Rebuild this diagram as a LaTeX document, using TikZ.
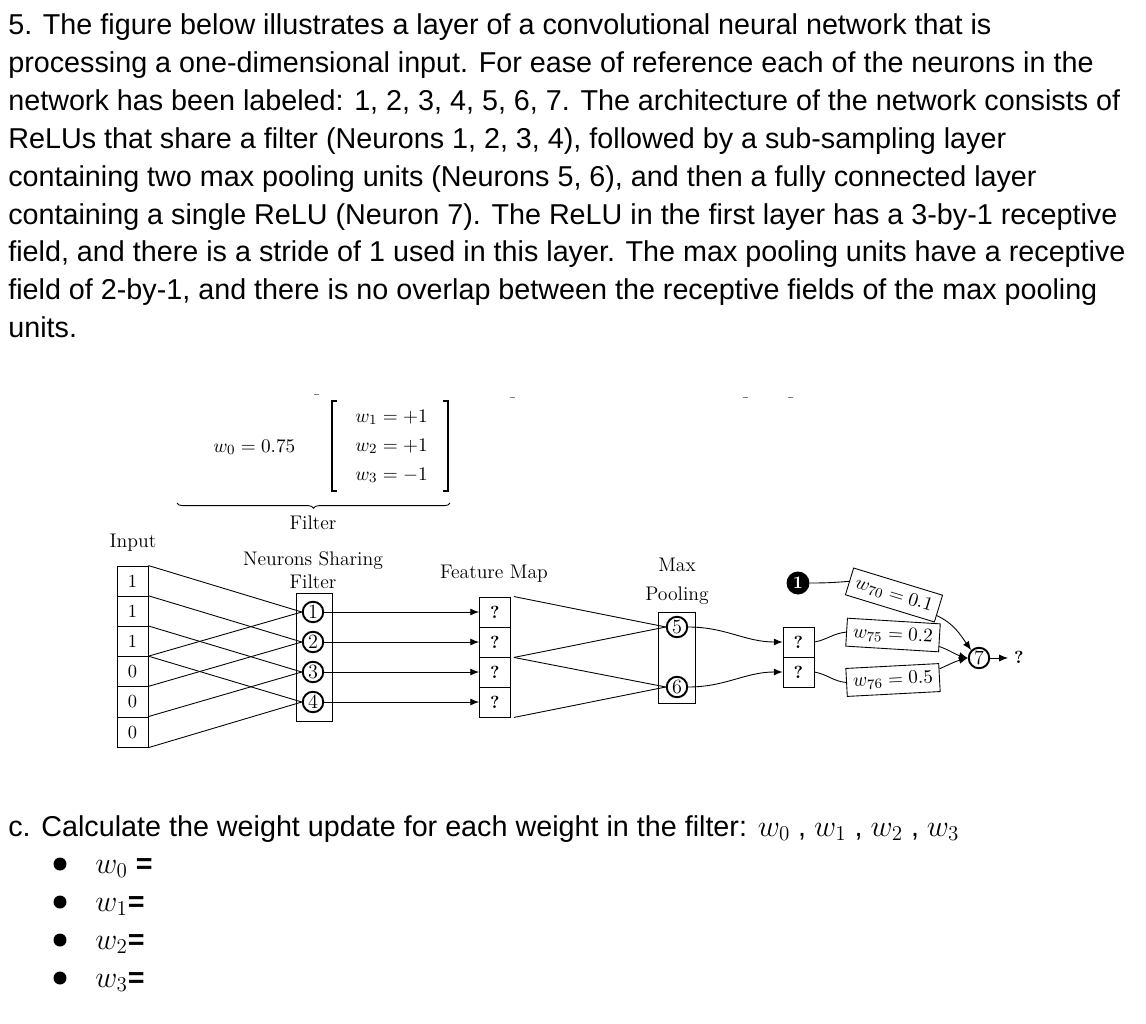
\documentclass[tikz,border=0pt]{standalone}
\usepackage{fontspec}
\newfontfamily\arial{Liberation Sans}
\usetikzlibrary{decorations.pathreplacing,arrows.meta,calc}
\begin{document}
\begin{tikzpicture}[x=0.02cm,y=-0.02cm,
  para/.style={anchor=base west,inner sep=0,font=\arial\fontsize{16.35}{19}\selectfont},
  lbl/.style={inner sep=0,align=center,font=\fontsize{11.2}{13}\selectfont},
  mth/.style={inner sep=0,anchor=base west,font=\fontsize{10.8}{13}\selectfont},
  cell/.style={draw,line width=0.5pt,minimum width=0.62cm,minimum height=0.604cm,inner sep=0,font=\fontsize{10.5}{12}\selectfont},
  qcell/.style={draw,line width=0.5pt,minimum width=0.62cm,minimum height=0.6cm,inner sep=0,font=\fontsize{10}{12}\selectfont\bfseries},
  neuron/.style={circle,draw,line width=1.1pt,minimum size=0.41cm,inner sep=0,font=\fontsize{11.5}{12}\selectfont},
  grp/.style={draw,line width=0.5pt,inner sep=0},
  wbox/.style={draw,line width=0.5pt,minimum width=1.86cm,minimum height=0.56cm,inner sep=1pt,font=\fontsize{11}{12}\selectfont},
  conn/.style={line width=0.5pt},
  arr/.style={line width=0.5pt,-{Latex[length=5pt,width=4pt]}},
  bul/.style={circle,fill=black,minimum size=0.26cm,inner sep=0},
  bigm/.style={}
]
\useasboundingbox (0,0) rectangle (1146,1024);

% ---------- question text ----------
\node[para] (t1) at (8,35) {5. The figure below illustrates a layer of a convolutional neural network that is};
\node[para] (t2) at (8,72.8) {processing a one-dimensional input. For ease of reference each of the neurons in the};
\node[para] (t3) at (8,110.6) {network has been labeled: 1, 2, 3, 4, 5, 6, 7. The architecture of the network consists of};
\node[para] (t4) at (8,148.4) {ReLUs that share a filter (Neurons 1, 2, 3, 4), followed by a sub-sampling layer};
\node[para] (t5) at (8,186.2) {containing two max pooling units (Neurons 5, 6), and then a fully connected layer};
\node[para] (t6) at (8,224) {containing a single ReLU (Neuron 7). The ReLU in the first layer has a 3-by-1 receptive};
\node[para] (t7) at (8,261.8) {field, and there is a stride of 1 used in this layer. The max pooling units have a receptive};
\node[para] (t8) at (8,299.6) {field of 2-by-1, and there is no overlap between the receptive fields of the max pooling};
\node[para] (t9) at (8,337.4) {units.};

% ---------- small marks ----------
\draw[line width=0.5pt,gray] (314,394) -- (319,394);
\draw[line width=0.5pt,gray] (510,397) -- (515,397);
\draw[line width=0.5pt,gray] (743,397) -- (748,397);
\draw[line width=0.5pt,gray] (788,397) -- (793,397);

% ---------- filter weights ----------
\node[mth] (w0) at (213,452) {$w_0 = 0.75$};
\draw[line width=0.9pt] (337,401) -- (332,401) -- (332,491) -- (337,491);
\draw[line width=0.9pt] (443,401) -- (448,401) -- (448,491) -- (443,491);
\node[mth] (w1) at (355,422) {$w_1 = +1$};
\node[mth] (w2) at (355,451) {$w_2 = +1$};
\node[mth] (w3) at (355,480) {$w_3 = -1$};
\coordinate (brL) at (177,503);
\coordinate (brR) at (450,503);
\draw[line width=0.5pt,decorate,decoration={brace,mirror,amplitude=3pt}] (brL) -- (brR);
\node[lbl] (filt) at (313,523) {Filter};

% ---------- input ----------
\node[lbl] (inlbl) at (133,543) {Input};
\node[cell] (in0) at (132.5,581.1) {1};
\node[cell] (in1) at (132.5,611.3) {1};
\node[cell] (in2) at (132.5,641.5) {1};
\node[cell] (in3) at (132.5,671.7) {0};
\node[cell] (in4) at (132.5,701.9) {0};
\node[cell] (in5) at (132.5,732.1) {0};

% ---------- conv neurons ----------
\node[lbl] (nslbl) at (313,570) {Neurons Sharing\\Filter};
\node[grp,minimum width=0.72cm,minimum height=2.56cm] (fbox) at (314,657) {};
\node[neuron] (n1) at (313,612) {1};
\node[neuron] (n2) at (313,642) {2};
\node[neuron] (n3) at (313,672) {3};
\node[neuron] (n4) at (313,702) {4};

\draw[conn] (in0.north east) -- (n1.west);
\draw[conn] (in3.north east) -- (n1.west);
\draw[conn] (in1.north east) -- (n2.west);
\draw[conn] (in4.north east) -- (n2.west);
\draw[conn] (in2.north east) -- (n3.west);
\draw[conn] (in5.north east) -- (n3.west);
\draw[conn] (in3.north east) -- (n4.west);
\draw[conn] (in5.south east) -- (n4.west);

% ---------- feature map ----------
\node[lbl] (fmlbl) at (494,574) {Feature Map};
\node[qcell] (fm1) at (495,612) {?};
\node[qcell] (fm2) at (495,642) {?};
\node[qcell] (fm3) at (495,672) {?};
\node[qcell] (fm4) at (495,702) {?};
\draw[arr] (n1.east) -- (fm1.west);
\draw[arr] (n2.east) -- (fm2.west);
\draw[arr] (n3.east) -- (fm3.west);
\draw[arr] (n4.east) -- (fm4.west);

% ---------- max pooling ----------
\node[lbl,font=\fontsize{11.2}{16.4}\selectfont] (mplbl) at (677,581) {Max\\Pooling};
\node[grp,minimum width=0.74cm,minimum height=1.82cm] (pbox) at (676.5,657.5) {};
\node[neuron] (n5) at (677,627) {5};
\node[neuron] (n6) at (677,687) {6};
\coordinate (f0) at ($(fm1.north east)+(3,0)$);
\coordinate (f2) at ($(fm2.south east)+(3,0)$);
\coordinate (f4) at ($(fm4.south east)+(3,0)$);
\draw[conn] (f0) -- (n5.west);
\draw[conn] (f2) -- (n5.west);
\draw[conn] (f2) -- (n6.west);
\draw[conn] (f4) -- (n6.west);

% ---------- pooled outputs ----------
\node[qcell] (pc1) at (798.5,642) {?};
\node[qcell] (pc2) at (798.5,672) {?};
\draw[arr] (n5.east) to[out=0,in=180] (pc1.west);
\draw[arr] (n6.east) to[out=0,in=180] (pc2.west);

% ---------- fully connected ----------
\node[circle,fill=black,text=white,minimum size=0.46cm,inner sep=0,font=\fontsize{10}{12}\selectfont\bfseries] (bias) at (798,583) {1};
\node[wbox,rotate=-17] (w70) at (894,595) {$w_{70} = 0.1$};
\node[wbox,rotate=-3.5] (w75) at (893,635) {$w_{75} = 0.2$};
\node[wbox,rotate=3] (w76) at (893,680) {$w_{76} = 0.5$};
\node[neuron] (n7) at (979,658) {7};
\coordinate (outp) at (1008,658);
\node[inner sep=0,font=\fontsize{10}{12}\selectfont\bfseries] (q7) at (1019,657) {?};

\draw[conn] (bias.east) to[out=0,in=185] (w70.west);
\draw[conn] (pc1.east) to[out=10,in=185] (w75.west);
\draw[conn] (pc2.east) to[out=-10,in=175] (w76.west);
\draw[arr] ($(w70.east)!0.5!(w70.south east)$) to[out=-25,in=125] (n7.135);
\draw[arr] ($(w75.east)!0.6!(w75.south east)$) to[out=-20,in=165] (n7.west);
\draw[arr] ($(w76.east)!0.6!(w76.north east)$) to[out=25,in=195] (n7.west);
\draw[arr] (n7.east) -- (outp);

% ---------- question c ----------
\node[para] (c1) at (8,836) {c. Calculate the weight update for each weight in the filter: {\fontsize{16.5}{18}\selectfont$w_0$} , {\fontsize{16.5}{18}\selectfont$w_1$} , {\fontsize{16.5}{18}\selectfont$w_2$} , {\fontsize{16.5}{18}\selectfont$w_3$}};
\node[bul] (b0) at (60,864) {};
\node[bul] (b1) at (60,902) {};
\node[bul] (b2) at (60,940) {};
\node[bul] (b3) at (60,978) {};
\node[para] (a0) at (95,873) {{\fontsize{17}{18}\selectfont$w_0$} \textbf{=}};
\node[para] (a1) at (95,911) {{\fontsize{17}{18}\selectfont$w_1$}\textbf{=}};
\node[para] (a2) at (95,949) {{\fontsize{17}{18}\selectfont$w_2$}\textbf{=}};
\node[para] (a3) at (95,987) {{\fontsize{17}{18}\selectfont$w_3$}\textbf{=}};
\end{tikzpicture}
\end{document}
